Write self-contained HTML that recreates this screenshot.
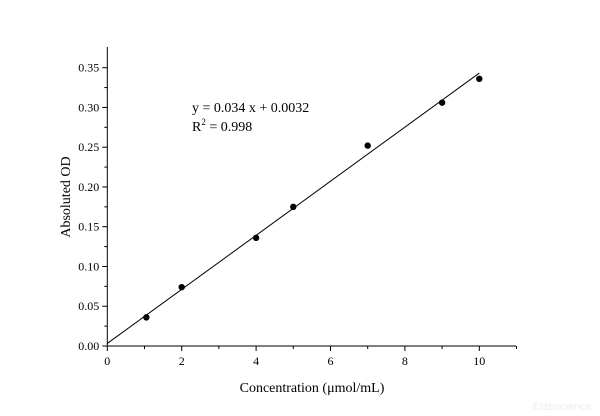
<!DOCTYPE html>
<html><head><meta charset="utf-8"><style>
html,body{margin:0;padding:0;background:#fff;}
svg{display:block;font-family:"Liberation Serif",serif;}
</style></head><body>
<svg id="chart" width="600" height="416" viewBox="0 0 600 416" xmlns="http://www.w3.org/2000/svg">
<g id="axes"></g>
<g id="marks"></g>
<text x="192" y="112" font-size="14">y = 0.034 x + 0.0032</text>
<text x="192" y="131" font-size="14">R<tspan dy="-6" font-size="9">2</tspan><tspan dy="6"> = 0.998</tspan></text>
<text x="312" y="392" font-size="14" text-anchor="middle">Concentration (μmol/mL)</text>
<text transform="translate(70,197) rotate(-90)" font-size="14" text-anchor="middle">Absoluted OD</text>
<text x="592" y="410" font-size="11" fill="#eee" text-anchor="end" font-family="Liberation Sans, sans-serif">Elabscience</text>
</svg>
<script>
const xValues = [1.05, 2, 4, 5, 7, 9, 10];
const yValues = [0.036, 0.074, 0.136, 0.175, 0.252, 0.306, 0.336];
const xTicks = [0, 2, 4, 6, 8, 10];
const yTicks = [0, 0.05, 0.10, 0.15, 0.20, 0.25, 0.30, 0.35];
const slope = 0.034, intercept = 0.0032;
const fitRange = [0, 10];

const X0 = 107.3, PXX = 37.2, Y0 = 346, PXY = 795.2;
const sx = v => X0 + v * PXX;
const sy = v => Y0 - v * PXY;
const NS = 'http://www.w3.org/2000/svg';
function mk(tag, attrs, parent) {
  const e = document.createElementNS(NS, tag);
  for (const k in attrs) e.setAttribute(k, attrs[k]);
  parent.appendChild(e);
  return e;
}
const axes = document.getElementById('axes');
const marks = document.getElementById('marks');
const yAxis = mk('line', {x1: X0, y1: 47, x2: X0, y2: Y0, stroke: '#000', 'stroke-width': 1}, axes);


const xAxis = mk('line', {x1: X0, y1: Y0, x2: 516, y2: Y0, stroke: '#000', 'stroke-width': 1}, axes);


for (let i = 0; i <= 11; i++) {
  const major = i % 2 === 0;
  const t = mk('line', {x1: sx(i), y1: Y0, x2: sx(i), y2: Y0 + (major ? 5 : 3), stroke: '#000'}, axes);
  
  
}
xTicks.forEach(v => {
  const l = mk('text', {x: sx(v), y: Y0 + 19, 'font-size': 12, 'text-anchor': 'middle'}, axes);
  l.textContent = String(v);
  
  
});
for (let i = 0; i <= 14; i++) {
  const v = i * 0.025, major = i % 2 === 0;
  const t = mk('line', {x1: X0, y1: sy(v), x2: X0 - (major ? 5 : 3), y2: sy(v), stroke: '#000'}, axes);
  
  
}
yTicks.forEach(v => {
  const l = mk('text', {x: X0 - 8, y: sy(v) + 4, 'font-size': 12, 'text-anchor': 'end'}, axes);
  l.textContent = v.toFixed(2);
  
  
});
const fit = mk('line', {x1: sx(fitRange[0]), y1: sy(slope * fitRange[0] + intercept), x2: sx(fitRange[1]), y2: sy(slope * fitRange[1] + intercept), stroke: '#000', 'stroke-width': 1}, marks);


xValues.forEach((x, i) => {
  const c = mk('circle', {cx: sx(x), cy: sy(yValues[i]), r: 3.2, fill: '#000'}, marks);
  
  
});
</script>
</body></html>
